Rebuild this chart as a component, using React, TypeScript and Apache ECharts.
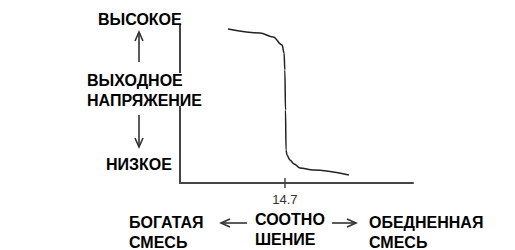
import React, { useEffect, useRef } from "react";
import * as echarts from "echarts";

// Air/fuel ratio (x) vs sensor output voltage (y, normalized 0..1)
const afrValues = [13.236, 14.06, 14.4, 14.63, 14.68, 14.7, 14.717, 14.73, 14.755, 14.83, 14.94, 15.09, 15.43, 16.35];
const voltValues = [0.975, 0.949, 0.924, 0.873, 0.823, 0.715, 0.462, 0.209, 0.177, 0.146, 0.12, 0.095, 0.082, 0.051];
const tickValues = [14.7];
const tickLabels = ["14.7"];

const yTexts = { high: "ВЫСОКОЕ", title: "ВЫХОДНОЕ\nНАПРЯЖЕНИЕ", low: "НИЗКОЕ" };
const xTexts = { rich: "БОГАТАЯ\nСМЕСЬ", ratio: "СООТНО\nШЕНИЕ", lean: "ОБЕДНЕННАЯ\nСМЕСЬ" };

const FONT = "'Liberation Sans', Arial, sans-serif";

export default function App() {
  const ref = useRef<HTMLDivElement>(null);
  useEffect(() => {
    if (!ref.current) return;
    const chart = echarts.init(ref.current, undefined, { renderer: "svg" });
    const lbl = (x: number, y: number, text: string, extra: any = {}) => ({
      type: "text",
      x,
      y,
      z: 100,
      style: {
        text,
        font: `bold 16px ${FONT}`,
        fill: "#000",
        lineHeight: 20,
        ...extra,
      },
    });
    const arrowStyle = { stroke: "#333", lineWidth: 1.6, fill: "none" };
    chart.setOption({
      animation: false,
      grid: { left: 180, top: 25, width: 233, height: 158, containLabel: false },
      xAxis: {
        type: "value",
        min: 12,
        max: 18,
        axisLine: { show: true, onZero: false, lineStyle: { color: "#444", width: 2 } },
        axisTick: { show: true, customValues: tickValues, length: 5, lineStyle: { color: "#444", width: 1.5 } },
        axisLabel: {
          show: true,
          customValues: tickValues,
          formatter: (v: number) => tickLabels[tickValues.indexOf(v)] ?? String(v),
          margin: 10,
          fontSize: 13,
          color: "#333",
          fontFamily: FONT,
        },
        splitLine: { show: false },
      },
      yAxis: {
        type: "value",
        min: 0,
        max: 1,
        axisLine: { show: true, onZero: false, lineStyle: { color: "#444", width: 2 } },
        axisTick: { show: false },
        axisLabel: { show: false },
        splitLine: { show: false },
      },
      series: [
        {
          type: "line",
          data: afrValues.map((x, i) => [x, voltValues[i]]),
          smooth: 0.35,
          smoothMonotone: "x",
          showSymbol: false,
          lineStyle: { color: "#222", width: 1.5 },
          markLine: {
            silent: true,
            symbol: "none",
            label: { show: false },
            lineStyle: { color: "#444", width: 1.5, type: "solid" },
            data: [[{ coord: [14.7, 0] }, { coord: [14.7, 0.032] }]],
          },
        },
      ],
      graphic: [
        { type: "rect", z: 90, shape: { x: 85, y: 73, width: 120, height: 33 }, style: { fill: "#fff" } },
        lbl(98, 9, yTexts.high),
        lbl(87, 70, yTexts.title),
        lbl(106, 154, yTexts.low),
        lbl(129, 212, xTexts.rich),
        lbl(255, 209, xTexts.ratio),
        lbl(369, 212, xTexts.lean),
        // up arrow
        { type: "line", z: 100, shape: { x1: 139, y1: 62, x2: 139, y2: 33 }, style: arrowStyle },
        { type: "polyline", z: 100, shape: { points: [[135, 41], [139, 32], [143, 41]] }, style: arrowStyle },
        // down arrow
        { type: "line", z: 100, shape: { x1: 139, y1: 115, x2: 139, y2: 146 }, style: arrowStyle },
        { type: "polyline", z: 100, shape: { points: [[135, 138], [139, 147], [143, 138]] }, style: arrowStyle },
        // left arrow
        { type: "line", z: 100, shape: { x1: 247, y1: 223, x2: 221, y2: 223 }, style: arrowStyle },
        { type: "polyline", z: 100, shape: { points: [[230, 219], [221, 223], [230, 227]] }, style: arrowStyle },
        // right arrow
        { type: "line", z: 100, shape: { x1: 332, y1: 223, x2: 356, y2: 223 }, style: arrowStyle },
        { type: "polyline", z: 100, shape: { points: [[347, 219], [356, 223], [347, 227]] }, style: arrowStyle },
      ],
    });
    return () => chart.dispose();
  }, []);
  return (
    <div
      ref={ref}
      style={{ position: "fixed", left: 0, top: 0, width: 515, height: 250, background: "#fff" }}
    />
  );
}
